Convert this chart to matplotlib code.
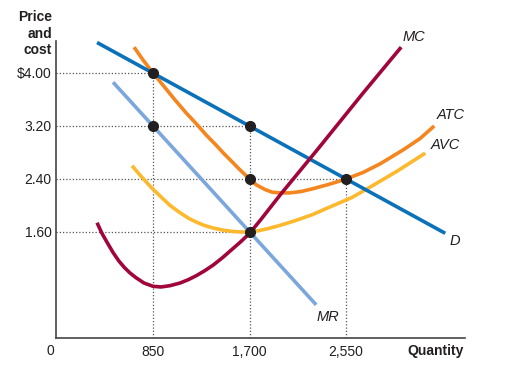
import numpy as np
import matplotlib
matplotlib.use('Agg')
import matplotlib.pyplot as plt

plt.rcParams['font.family'] = ['Liberation Sans', 'DejaVu Sans']

# values (quantity, price)
d_q = [357, 3422]
d_p = [4.46, 1.58]

mr_q = [498, 2286]
mr_p = [3.86, 0.50]

mc_q = [357, 400, 450, 498, 550, 600, 648, 700, 770, 850, 920, 1000, 1088, 1160, 1230,
        1300, 1379, 1460, 1540, 1620, 1700, 1800, 1969, 2295, 2700, 3034]
mc_p = [1.74, 1.58, 1.43, 1.29, 1.16, 1.06, 0.98, 0.91, 0.83, 0.78, 0.77, 0.79, 0.83, 0.88, 0.94,
        1.01, 1.10, 1.21, 1.33, 1.45, 1.58, 1.79, 2.16, 2.84, 3.70, 4.39]

atc_q = [683, 760, 850, 950, 1040, 1140, 1238, 1320, 1400, 1470, 1528, 1620, 1700, 1760, 1837,
         1900, 1969, 2050, 2150, 2250, 2400, 2550, 2700, 2850, 3052, 3200, 3325]
atc_p = [4.39, 4.20, 4.00, 3.79, 3.60, 3.40, 3.22, 3.06, 2.92, 2.79, 2.69, 2.53, 2.40, 2.31, 2.24,
         2.20, 2.19, 2.19, 2.21, 2.25, 2.32, 2.40, 2.50, 2.63, 2.84, 3.01, 3.20]

avc_q = [665, 750, 841, 920, 1000, 1088, 1160, 1230, 1300, 1379, 1460, 1540, 1620, 1700, 1780,
         1860, 1969, 2100, 2250, 2410, 2600, 2763, 3000, 3246]
avc_p = [2.60, 2.43, 2.26, 2.13, 2.00, 1.89, 1.81, 1.75, 1.70, 1.66, 1.63, 1.61, 1.60, 1.60, 1.62,
         1.65, 1.70, 1.77, 1.86, 1.98, 2.12, 2.28, 2.52, 2.79]

dots_q = [850, 850, 1700, 1700, 1700, 2550]
dots_p = [4.00, 3.20, 3.20, 2.40, 1.60, 2.40]

# guide lines: (price, quantity reached)
h_guides = [(4.00, 850), (3.20, 1700), (2.40, 2550), (1.60, 1700)]
v_guides = [(850, 4.00), (1700, 3.20), (2550, 2.40)]

x_ticks = [850, 1700, 2550]
x_labels = ['850', '1,700', '2,550']
y_ticks = [1.60, 2.40, 3.20, 4.00]
y_labels = ['1.60', '2.40', '3.20', '$4.00']

fig = plt.figure(figsize=(5.23, 3.81), dpi=100)
ax = fig.add_axes([0.108, 0.1129, 0.782, 0.779])

dot_style = dict(color='#555555', lw=0.9, ls=(0, (1, 1.6)), zorder=1)
for p, q in h_guides:
    ax.plot([0, q], [p, p], **dot_style)
for q, p in v_guides:
    ax.plot([q, q], [0, p], **dot_style)

lw = 2.6
ax.plot(mr_q, mr_p, color='#7ba7dc', lw=lw, solid_capstyle='butt', zorder=2)
ax.plot(avc_q, avc_p, color='#fdb92e', lw=lw, solid_capstyle='butt', solid_joinstyle='round', zorder=2)
ax.plot(atc_q, atc_p, color='#f5861f', lw=lw, solid_capstyle='butt', solid_joinstyle='round', zorder=3)
ax.plot(d_q, d_p, color='#0b72ba', lw=lw, solid_capstyle='butt', zorder=3)
ax.plot(mc_q, mc_p, color='#a0063c', lw=lw, solid_capstyle='butt', solid_joinstyle='round', zorder=4)

ax.plot(dots_q, dots_p, 'o', color='#231f20', markersize=7, zorder=5)

lab = dict(fontsize=10.5, style='italic', color='#231f20')
ax.text(3043, 4.54, 'MC', ha='left', va='center', **lab)
ax.text(3351, 3.37, 'ATC', ha='left', va='center', **lab)
ax.text(3298, 2.92, 'AVC', ha='left', va='center', **lab)
ax.text(3457, 1.46, 'D', ha='left', va='center', **lab)
ax.text(2286, 0.32, 'MR', ha='left', va='center', **lab)

ax.set_xlim(0, 3600)
ax.set_ylim(0, 4.48)
ax.set_xticks(x_ticks)
ax.set_xticklabels(x_labels, fontsize=10, color='#231f20')
ax.set_yticks(y_ticks)
ax.set_yticklabels(y_labels, fontsize=10, color='#231f20')
ax.tick_params(axis='x', length=0, pad=5)
ax.tick_params(axis='y', length=0, pad=3.6)

for s in ['top', 'right']:
    ax.spines[s].set_visible(False)
for s in ['left', 'bottom']:
    ax.spines[s].set_color('#444444')
    ax.spines[s].set_linewidth(1.2)

ax.annotate('0', xy=(0, 0), xytext=(-4.7, -9.4), textcoords='offset points',
            ha='center', va='center', fontsize=10, color='#231f20', annotation_clip=False)
ax.annotate('Quantity', xy=(1, 0), xycoords='axes fraction', xytext=(-21.6, -9.4),
            textcoords='offset points', ha='center', va='center', fontsize=10,
            fontweight='bold', color='#231f20', annotation_clip=False)
fig.text(52 / 523, 1 - 10 / 381, 'Price\nand\ncost', ha='right', va='top', fontsize=10,
         fontweight='bold', color='#231f20', linespacing=1.25)

fig.savefig('out.png', dpi=100)
